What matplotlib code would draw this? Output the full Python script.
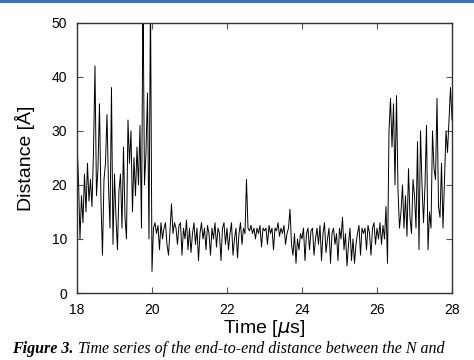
import numpy as np
import matplotlib
matplotlib.use("Agg")
import matplotlib.pyplot as plt

# end-to-end distance sampled every 0.04 us, 18 -> 28 us
dist_18 = [28, 21, 10, 18, 13, 22, 15, 24, 17, 21, 16, 26, 42, 18, 23, 35, 17, 7, 21, 24, 33, 20, 12, 38, 9]
dist_19 = [22, 14, 8, 19, 22, 12, 27, 14, 10, 32, 24, 30, 15, 25, 18, 27, 20, 31, 12, 56, 20, 26, 37, 10, 55]
dist_20 = [4, 12, 13, 11, 12.5, 8, 13, 10, 12, 13, 9, 7, 11.5, 16.5, 11, 13, 12, 9, 12.5, 13, 7, 12, 10, 13.5, 8]
dist_21 = [12, 7.5, 11, 13, 9, 12, 6, 11, 13, 10, 12, 8, 12.5, 11, 7, 12, 10, 13, 8.5, 12, 11, 6, 12, 13, 9]
dist_22 = [12, 8, 11, 13, 7, 10, 12, 6.5, 11, 13, 9, 12, 11, 21, 12, 11.5, 12.5, 11, 12, 10, 12, 11, 12.5, 8.5, 12]
dist_23 = [11.5, 12, 9, 12.5, 11, 12, 8, 12, 11.5, 13, 10.5, 12, 11, 12.5, 9, 11, 12, 15.5, 9, 7, 11, 5.5, 10, 8, 11]
dist_24 = [10, 12, 6, 11, 12, 8, 11.5, 12, 7, 10, 12, 9, 12.5, 6, 11, 13, 7.5, 10, 12, 5.5, 11, 12, 9, 11, 6]
dist_25 = [12, 10, 14, 8, 11, 5, 9, 12, 6, 10, 5.5, 9, 11, 12.5, 7, 12, 11, 12, 8, 12.5, 11, 7, 12, 13, 9]
dist_26 = [12, 10, 13, 9, 12.5, 10, 16, 5.5, 30, 36, 27, 35, 20, 36.5, 19, 12, 15, 20, 12, 18, 10.5, 23, 14, 11, 21]
dist_27 = [18, 12, 28, 8, 30, 20, 13, 20, 31, 8, 15, 12, 30, 23, 21, 36, 16, 14, 24, 12, 21, 30, 26, 32, 38, 32]

distance = np.array(dist_18 + dist_19 + dist_20 + dist_21 + dist_22
                    + dist_23 + dist_24 + dist_25 + dist_26 + dist_27)
time = np.linspace(18, 28, len(distance))

plt.rcParams["font.family"] = ["Liberation Sans", "DejaVu Sans"]

fig = plt.figure(figsize=(4.74, 3.6), dpi=100)
ax = fig.add_axes([0.1624, 0.1861, 0.7912, 0.7509])

ax.plot(time, distance, color="black", linewidth=0.7)
ax.set_xlim(18, 28)
ax.set_ylim(0, 50)
ax.set_xticks([18, 20, 22, 24, 26, 28])
ax.set_yticks([0, 10, 20, 30, 40, 50])
ax.tick_params(direction="in", top=True, right=True, length=4, width=0.8,
               labelsize=10, pad=7, color="#555555")
for s in ax.spines.values():
    s.set_linewidth(1.0)
    s.set_color("#333333")
ax.set_xlabel("Time [$\\mu$s]", fontsize=14, labelpad=1)
ax.set_ylabel("Distance [Å]", fontsize=14, labelpad=12)

# journal page remnants: blue rule on top, caption at the bottom
fig.add_artist(plt.Rectangle((0, 1 - 2.5 / 360), 1, 2.5 / 360,
                             transform=fig.transFigure, color="#3b73b9", lw=0))
fig.text(0.025, 0.008, "Figure 3.", fontsize=11.5, va="bottom", ha="left",
         family="Liberation Serif", weight="bold", style="italic")
fig.text(0.165, 0.008, "Time series of the end-to-end distance between the N and",
         fontsize=11.5, va="bottom", ha="left", family="Liberation Serif", style="italic")

fig.savefig("out.png", dpi=100)
